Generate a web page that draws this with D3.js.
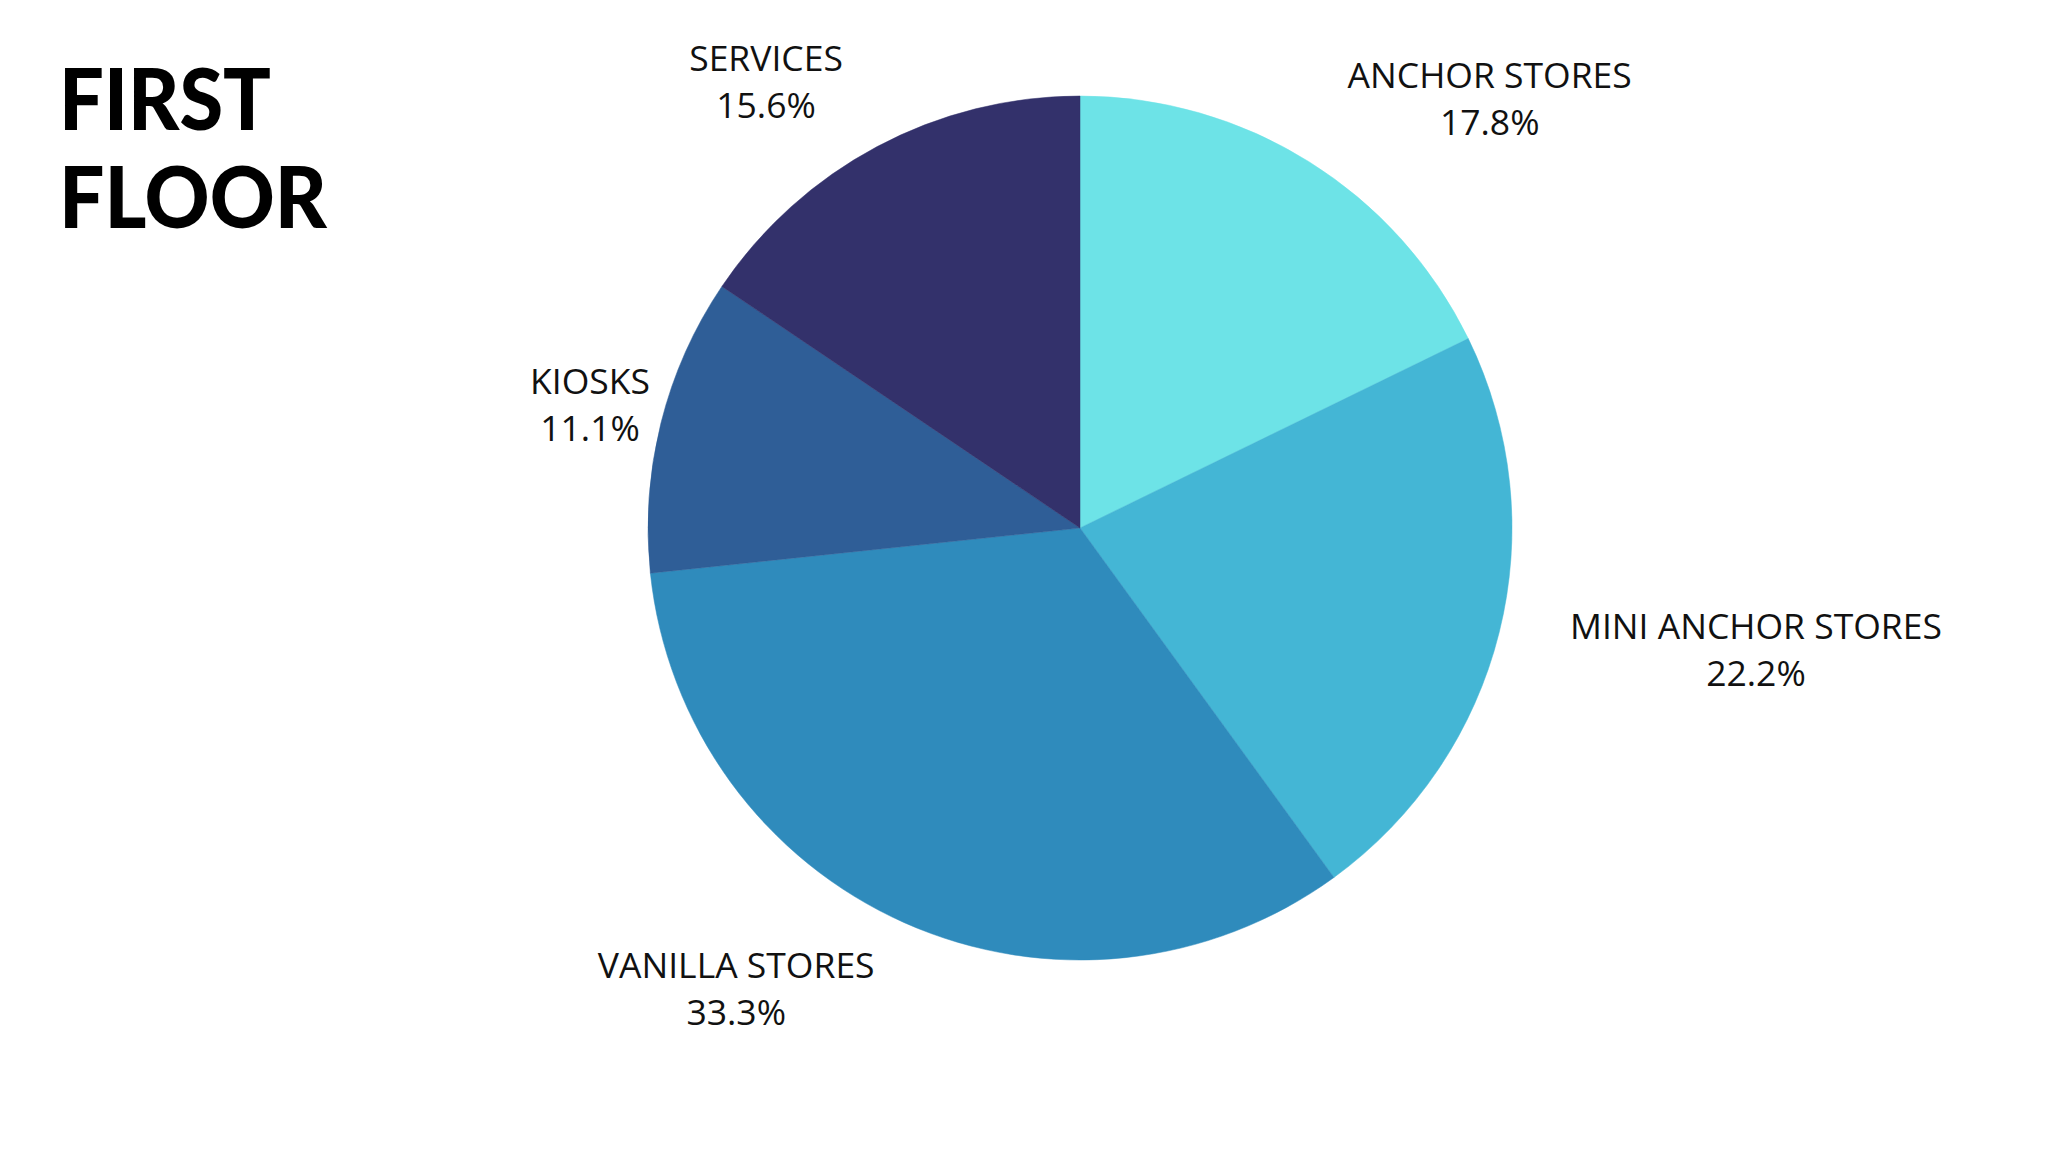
<!DOCTYPE html>
<html>
<head>
<meta charset="utf-8">
<script src="https://cdn.jsdelivr.net/npm/d3@7"></script>
<style>
  html, body { margin: 0; padding: 0; background: #ffffff; }
  svg { display: block; }
</style>
</head>
<body>
<div id="chart"></div>
<script>
// data (shares of 45 units)
const categories = ["ANCHOR STORES", "MINI ANCHOR STORES", "VANILLA STORES", "KIOSKS", "SERVICES"];
const counts = [8, 10, 15, 5, 7];
const colors = ["#6de3e7", "#44b6d5", "#2f8bbc", "#2f5e97", "#33316b"];
const titleLines = ["FIRST", "FLOOR"];

const W = 2048, H = 1152;
const cx = 1080, cy = 528, radius = 432, labelR = 505;

let svg = d3.select('#chart')
  .append("svg")
  .attr("width", W)
  .attr("height", H);

svg.append("rect")
  .attr("width", W).attr("height", H)
  .attr("fill", "#ffffff");

// title
svg.append("g")
  .selectAll("text")
  .data(titleLines)
  .enter().append("text")
  .attr("x", 59)
  .attr("y", function(d, i){ return 130 + i * 98; })
  .attr("textLength", function(d, i){ return i === 0 ? 212 : 268; })
  .attr("lengthAdjust", "spacingAndGlyphs")
  .style("font-family", "Lato, 'Open Sans', sans-serif")
  .style("font-weight", 900)
  .style("font-size", "86px")
  .style("fill", "#000")
  .text(function(d){ return d; });

let total = d3.sum(counts);
let chData = categories.map(function(c, i){
  return {name: c, val: counts[i], color: colors[i]};
});

let pie = d3.pie()
  .sort(null)
  .value(function(d){ return d.val; });

let arc = d3.arc().innerRadius(0).outerRadius(radius);

let g = svg.append("g")
  .attr("transform", "translate(" + cx + "," + cy + ")");

let slices = g.selectAll(".slice")
  .data(pie(chData))
  .enter().append("g")
  .attr("class", "slice");

slices.append("path")
  .attr("d", arc)
  .attr("fill", function(d){ return d.data.color; })
  .attr("stroke", function(d){ return d.data.color; })
  .attr("stroke-width", 0.5);

// labels: vertical centre on label radius, text starts/ends at that point
let lineGap = 47;
let labels = slices.append("text")
  .attr("transform", function(d){
    let a = (d.startAngle + d.endAngle) / 2;
    let x = labelR * Math.sin(a);
    let y = -labelR * Math.cos(a);
    return "translate(" + x + "," + y + ")";
  })
  .style("font-family", "'Open Sans', 'Noto Sans', sans-serif")
  .style("font-size", "35.5px")
  .style("fill", "#111");

labels.each(function(d){
  let t = d3.select(this);
  t.append("tspan").attr("y", -lineGap / 2 + 12).text(d.data.name);
  t.append("tspan").attr("y", lineGap / 2 + 12)
    .text((d.data.val / total * 100).toFixed(1) + "%");
});

// centre the percentage under the name, block sits beside the label point
labels.each(function(d){
  let t = d3.select(this);
  let a = (d.startAngle + d.endAngle) / 2;
  let w0 = t.select("tspan").node().getComputedTextLength();
  let mid = Math.sin(a) >= 0 ? w0 / 2 : -w0 / 2;
  // the small kiosk label is centred on its point instead
  if (d.data.name === "KIOSKS") mid = 0;
  t.selectAll("tspan")
    .attr("text-anchor", "middle")
    .attr("x", mid);
});
</script>
</body>
</html>
